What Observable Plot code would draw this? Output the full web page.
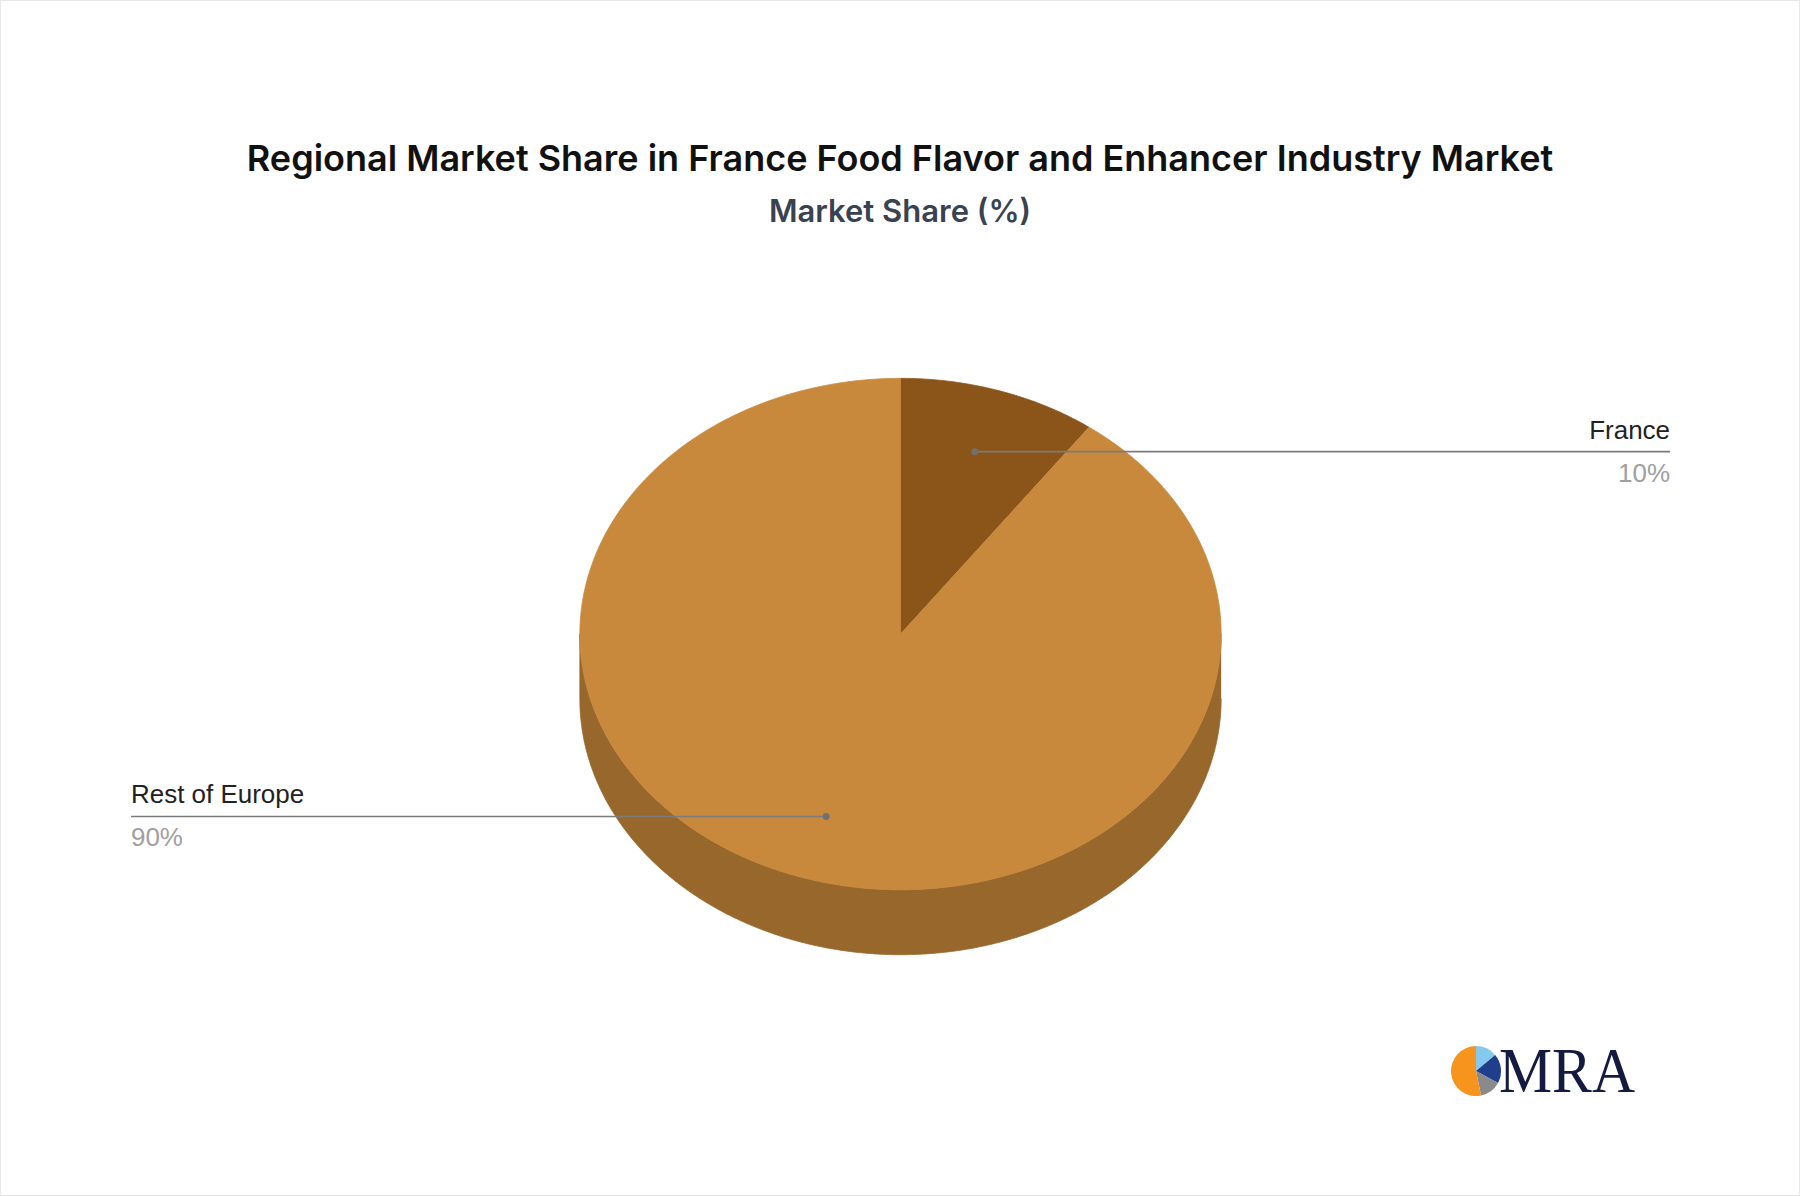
<!DOCTYPE html>
<html>
<head>
<meta charset="utf-8">
<script src="https://cdn.jsdelivr.net/npm/d3@7"></script>
<script src="https://cdn.jsdelivr.net/npm/@observablehq/plot@0.6"></script>
<style>
  html, body { margin: 0; padding: 0; background: #fff; }
  #page { position: relative; width: 1800px; height: 1196px; box-sizing: border-box; border: 1px solid #e8e8e8; overflow: hidden; }
  #head { position: relative; height: 240px; }
  #title { position: absolute; left: 0; right: 0; top: 135px; text-align: center; font-family: Inter, Roboto, sans-serif; font-weight: 600; font-size: 36px; line-height: 44px; color: #111; }
  #subtitle { position: absolute; left: 0; right: 0; top: 191px; text-align: center; font-family: Inter, Roboto, sans-serif; font-weight: 600; font-size: 31px; line-height: 38px; color: #3a4250; }
  #chart svg { display: block; }
  #logo { position: absolute; left: 1448px; top: 1030px; }
</style>
</head>
<body>
<div id="page">
  <div id="head">
    <div id="title">Regional Market Share in France Food Flavor and Enhancer Industry Market</div>
    <div id="subtitle">Market Share (%)</div>
  </div>
  <div id="chart"></div>
  <div id="logo">
    <svg width="230" height="90" viewBox="0 0 230 90">
      <g transform="translate(27,40)">
        <path d="M0,0 L0,-25 A25,25 0 0,1 19.2,-16 Z" fill="#86c9ef"/>
        <path d="M0,0 L19.2,-16 A25,25 0 0,1 22,12 Z" fill="#1f3f8c"/>
        <path d="M0,0 L22,12 A25,25 0 0,1 5,24.5 Z" fill="#8a8a8a"/>
        <path d="M0,0 L5,24.5 A25,25 0 1,1 0,-25 Z" fill="#f7941d"/>
      </g>
      <text x="50" y="61" font-family="'Liberation Serif', 'DejaVu Serif', serif" font-size="64" fill="#141a40" textLength="136" lengthAdjust="spacingAndGlyphs">MRA</text>
    </svg>
  </div>
</div>
<script>
// ---- data ----
const categories = ["France", "Rest of Europe"];
const shares = [10, 90];
const sliceColors = ["#8b5519", "#c8893d"];
const sideColors = ["#6c4312", "#97672c"];

// ---- layout (pixels) ----
const W = 1800, H = 956;
const CX = 900, CY = 393, RX = 321, RY = 256, DEPTH = 65;
const LABEL_X = 2.4;          // leader line end, in pie radii
const DOT_R = 0.75;           // leader dot position, in pie radii
const depth = DEPTH / RY;

const total = d3.sum(shares);
let acc = 0;
const slices = categories.map((name, i) => {
  const a0 = acc / total * 360;
  acc += shares[i];
  const a1 = acc / total * 360;
  return {name, value: shares[i], a0, a1, color: sliceColors[i], side: sideColors[i]};
});

const rad = a => a * Math.PI / 180;
const pt = (a, dy = 0) => ({x: Math.sin(rad(a)), y: -Math.cos(rad(a)) + dy});
function arc(a0, a1, dy = 0) {
  const n = Math.max(2, Math.ceil((a1 - a0) / 0.5));
  return d3.range(n + 1).map(k => pt(a0 + (a1 - a0) * k / n, dy));
}

// top faces
const tops = slices.map(s => ({...s, points: [{x: 0, y: 0}, ...arc(s.a0, s.a1), {x: 0, y: 0}]}));
// side walls (visible front half: 90°..270°)
const sides = slices.map(s => {
  const s0 = Math.max(s.a0, 90), s1 = Math.min(s.a1, 270);
  if (s1 <= s0) return null;
  return {...s, points: [...arc(s0, s1), ...arc(s0, s1, depth).reverse()]};
}).filter(Boolean);

// leader lines and labels
const labels = slices.map(s => {
  const mid = (s.a0 + s.a1) / 2;
  const p = pt(mid);
  const right = p.x >= 0;
  return {
    name: s.name,
    pct: `${s.value}%`,
    dx: p.x * DOT_R, dy: p.y * DOT_R,
    ex: right ? LABEL_X : -LABEL_X,
    anchor: right ? "end" : "start"
  };
});

const marks = [];
sides.forEach(s => marks.push(Plot.line(s.points, {x: "x", y: "y", fill: s.side, stroke: s.side, strokeWidth: 0.8, curve: "linear"})));
tops.forEach(s => marks.push(Plot.line(s.points, {x: "x", y: "y", fill: s.color, stroke: s.color, strokeWidth: 0.8, curve: "linear"})));
marks.push(Plot.link(labels, {x1: "dx", y1: "dy", x2: "ex", y2: "dy", stroke: "#7b7b7b", strokeWidth: 1.6}));
marks.push(Plot.dot(labels, {x: "dx", y: "dy", r: 3.5, fill: "#707070", stroke: null}));
labels.forEach(l => {
  marks.push(Plot.text([l], {x: "ex", y: "dy", text: "name", textAnchor: l.anchor, lineAnchor: "bottom", dy: -13, fontSize: 26, fill: "#222", fontFamily: "'Liberation Sans', Arial, sans-serif"}));
  marks.push(Plot.text([l], {x: "ex", y: "dy", text: "pct", textAnchor: l.anchor, lineAnchor: "bottom", dy: 30, fontSize: 26, fill: "#a0a0a0", fontFamily: "'Liberation Sans', Arial, sans-serif"}));
});

const chart = Plot.plot({
  width: W, height: H,
  margin: 0,
  x: {domain: [-CX / RX, (W - CX) / RX], range: [0, W], axis: null},
  y: {domain: [-CY / RY, (H - CY) / RY], range: [0, H], axis: null},
  style: {background: "transparent", overflow: "visible"},
  marks
});
document.getElementById("chart").appendChild(chart);
</script>
</body>
</html>
